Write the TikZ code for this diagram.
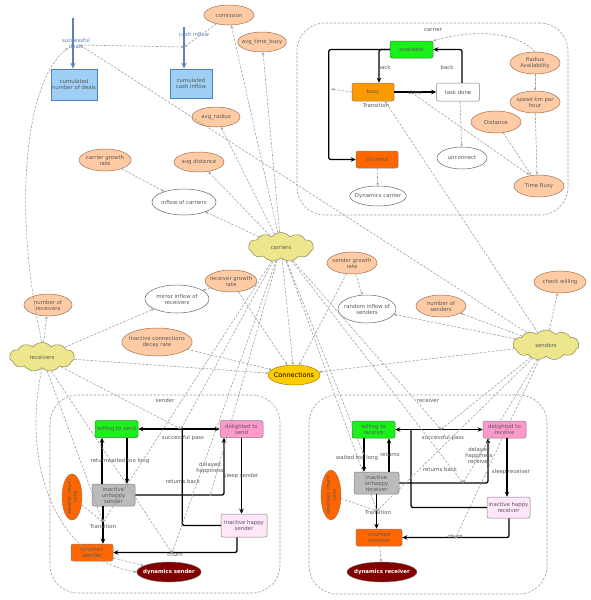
\documentclass[tikz,border=0pt]{standalone}
\usepackage{fontspec}
\setmainfont{DejaVu Sans}
\usetikzlibrary{shapes.geometric,shapes.symbols,arrows.meta,calc}
\definecolor{peach}{HTML}{FFCBA4}
\definecolor{peachd}{HTML}{A07050}
\definecolor{khaki}{HTML}{EEE68C}
\definecolor{khakid}{HTML}{8A8650}
\definecolor{goldf}{HTML}{FFCC00}
\definecolor{goldd}{HTML}{A08000}
\definecolor{lblue}{HTML}{9FCFF5}
\definecolor{lblued}{HTML}{4F7FBF}
\definecolor{flowc}{HTML}{5B7FC0}
\definecolor{sgreen}{HTML}{1AF01A}
\definecolor{sgreend}{HTML}{2E8B2E}
\definecolor{sorange}{HTML}{FF9900}
\definecolor{sred}{HTML}{FF6600}
\definecolor{spink}{HTML}{FF99CC}
\definecolor{slpink}{HTML}{FFE6F8}
\definecolor{sgray}{HTML}{BBBBBB}
\definecolor{dred}{HTML}{800000}
\definecolor{dgray}{HTML}{A0A0A0}
\begin{document}
\begin{tikzpicture}[x=1pt,y=-1pt,
 every node/.style={font=\fontsize{5.4}{6}\selectfont, text=black!65, align=center, inner sep=0.5pt},
 pe/.style={ellipse, draw=peachd, fill=peach, line width=0.5pt, inner xsep=-3pt, inner ysep=-1pt},
 we/.style={ellipse, draw=black!60, fill=white, line width=0.5pt, inner xsep=-3pt, inner ysep=-1pt},
 cl/.style={cloud, cloud puffs=11, cloud puff arc=100, draw=khakid, fill=khaki, line width=0.5pt, aspect=2.2, minimum width=65pt, minimum height=29pt},
 sb/.style={rectangle, rounded corners=2pt, draw=black!50, line width=0.5pt},
 fb/.style={rectangle, draw=lblued, fill=lblue, line width=0.6pt},
 da/.style={draw=dgray, dash pattern=on 2.5pt off 1.5pt, line width=0.6pt, -{Stealth[length=3pt,width=2.6pt]}},
 so/.style={draw=black, line width=1.3pt, rounded corners=2pt, -{Stealth[length=5pt,width=4.5pt]}},
 sl/.style={draw=black, line width=1.3pt, rounded corners=2pt},
 flw/.style={draw=flowc, line width=1.4pt, -{Stealth[length=6pt,width=5pt]}},
 grp/.style={draw=dgray, dash pattern=on 2.5pt off 1.5pt, line width=0.6pt, rounded corners=28pt},
]
\useasboundingbox (0,0) rectangle (590,600);
\fill[white] (0,0) rectangle (590,600);

% group boxes
\node[grp, minimum width=271pt, minimum height=192pt] (gcar) at (432.5,119) {};
\node[grp, minimum width=230pt, minimum height=198pt] (gsnd) at (165,494) {};
\node[grp, minimum width=238pt, minimum height=199pt] (grcv) at (428,494.5) {};
\node (lcar) at (433,29) {carrier};
\node (lsnd) at (165,400) {sender};
\node (lrcv) at (428,400) {receiver};

% stock & flow
\node[fb, minimum width=46pt, minimum height=31pt] (cnd) at (74,84.5) {cumulated\\number of deals};
\node[fb, minimum width=42pt, minimum height=29pt] (cci) at (191,83.5) {cumulated\\cash inflow};
\coordinate (sd0) at (73,18);
\coordinate (ci0) at (184,27);
\draw[flw] (sd0) -- (sd0 |- cnd.north);
\draw[flw] (ci0) -- (ci0 |- cci.north);
\node[text=flowc] (sdeal) at (76,43) {successful\\deals};
\node[text=flowc] (cinf) at (194,34) {cash inflow};
\coordinate (civ) at (184,47);
\coordinate (sdv) at (80,45);

% auxiliaries top
\node[pe, minimum width=50pt, minimum height=20pt] (comm) at (229,15) {comission};
\node[pe, minimum width=48pt, minimum height=20pt] (avgtb) at (262,42) {avg\_time\_busy};
\node[pe, minimum width=48pt, minimum height=20pt] (avgr) at (216,117) {avg\_radius};
\node[pe, minimum width=52pt, minimum height=22pt] (cgr) at (105,160) {carrier growth\\rate};
\node[pe, minimum width=50pt, minimum height=20pt] (avgd) at (199,162) {avg distance};
\node[we, minimum width=64pt, minimum height=26pt] (infc) at (184,202) {inflow of carriers};
\node[cl] (carr) at (281,247) {carriers};
\node[pe, minimum width=50pt, minimum height=22pt] (rgr) at (231,281) {receiver growth\\rate};
\node[we, minimum width=64pt, minimum height=28pt] (mir) at (177,299) {mirror inflow of\\receivers};
\node[pe, minimum width=48pt, minimum height=22pt] (nrec) at (48,305) {number of\\receivers};
\node[cl] (recv) at (42,357) {receivers};
\node[pe, minimum width=60pt, minimum height=28pt] (icd) at (157,342) {Inactive connections\\decay rate};
\node[ellipse, draw=goldd, fill=goldf, line width=0.5pt, minimum width=52pt, minimum height=20pt, inner xsep=-3pt, text=black, font=\fontsize{6.5}{7}\selectfont] (conn) at (294,375) {Connections};
\node[pe, minimum width=50pt, minimum height=22pt] (sgr) at (352,263) {sender growth\\rate};
\node[we, minimum width=58pt, minimum height=28pt] (rnd) at (367,309) {random inflow of\\senders};
\node[pe, minimum width=50pt, minimum height=22pt] (nsnd) at (441,306) {number of\\senders};
\node[pe, minimum width=52pt, minimum height=22pt] (chk) at (560,282) {check willing};
\node[cl, minimum width=66pt, minimum height=30pt] (send) at (546,345) {senders};

% carrier states
\node[sb, fill=sgreen, draw=sgreend, minimum width=43pt, minimum height=17pt] (avail) at (411.5,49.5) {available};
\node[sb, fill=sorange, minimum width=42pt, minimum height=18pt] (busy) at (373,92) {busy};
\node[sb, fill=white, minimum width=43pt, minimum height=18pt] (tdone) at (458,92) {task done};
\node[sb, fill=sred, minimum width=42pt, minimum height=17pt] (chur) at (377,159.5) {churned};
\node[we, minimum width=50pt, minimum height=20pt] (dync) at (378,196) {Dynamics carrier};
\node[we, minimum width=50pt, minimum height=22pt] (unc) at (462,158) {unconnect};
\node[pe, minimum width=50pt, minimum height=22pt] (rad) at (535,63) {Radius\\Availability};
\node[pe, minimum width=50pt, minimum height=22pt] (spd) at (535,102) {speed km per\\hour};
\node[pe, minimum width=50pt, minimum height=22pt] (dist) at (496,122) {Distance};
\node[pe, minimum width=50pt, minimum height=22pt] (tbusy) at (539,186) {Time Busy};

% sender states
\node[sb, fill=sgreen, draw=sgreend, minimum width=43pt, minimum height=17pt] (ws) at (116.5,429) {willing to send};
\node[sb, fill=spink, minimum width=43pt, minimum height=17pt] (ds) at (241.5,429) {delighted to\\send};
\node[sb, fill=sgray, minimum width=43pt, minimum height=22pt] (us) at (113.5,495) {inactive\\unhappy\\sender};
\node[sb, fill=slpink, minimum width=46pt, minimum height=23pt] (hs) at (244,525.5) {inactive happy\\sender};
\node[sb, fill=sred, minimum width=42pt, minimum height=17pt] (cs) at (92,552.5) {churned\\sender};
\node[ellipse, draw=black!50, fill=dred, text=white, font=\fontsize{5.4}{6}\selectfont\bfseries, inner xsep=-3pt, minimum width=50pt, minimum height=20pt] (dyns) at (169,572) {dynamics sender};
\node[ellipse, draw=peachd, fill=sred, rotate=90, inner xsep=-2pt, minimum width=46pt, minimum height=20pt] (scr) at (72,497) {sender churn\\rate};

% receiver states
\node[sb, fill=sgreen, draw=sgreend, minimum width=43pt, minimum height=17pt] (wr) at (373.5,429.5) {willing to\\receive};
\node[sb, fill=spink, minimum width=43pt, minimum height=17pt] (dr) at (504.5,429.5) {delighted to\\receive};
\node[sb, fill=sgray, minimum width=45pt, minimum height=22pt] (ur) at (376.5,483) {inactive\\unhappy\\receiver};
\node[sb, fill=slpink, minimum width=43pt, minimum height=21pt] (hr) at (508.5,507.5) {inactive happy\\receiver};
\node[sb, fill=sred, minimum width=46pt, minimum height=17pt] (cr) at (379,537.5) {churned\\receiver};
\node[ellipse, draw=black!50, fill=dred, text=white, font=\fontsize{5.4}{6}\selectfont\bfseries, inner xsep=-3pt, minimum width=50pt, minimum height=20pt] (dynr) at (382,572) {dynamics receiver};
\node[ellipse, draw=peachd, fill=sred, rotate=90, inner xsep=-2pt, minimum width=46pt, minimum height=20pt] (rcr) at (331,495) {receiver churn\\rate};

% ---- carrier solid flows
\draw[so] (avail.west) -| ([xshift=6pt]busy.north);
\draw[so] (avail.west) -- ++(-61,0) |- (chur.west);
\draw[so] (busy.east) -- (tdone.west);
\draw[so] ([xshift=4pt]tdone.north) |- (avail.east);
\node (lb1) at (384,67) {back};
\node (lb2) at (447,67) {back};
\node (ldone) at (415,92) {done};
\node (ltr0) at (376,105) {Transition};
\coordinate (trc) at (331,89);
\coordinate (donec) at (415,95);
\draw[da] (busy.west) -- (trc);
\draw[da] (chur) -- (dync);
\draw[da] ([xshift=2pt]tdone.south) -- (unc);
\draw[da] (rad) -- (spd);
\draw[da] (spd) -- ([xshift=-2pt]tbusy.north);
\draw[da] (dist) -- ([xshift=-8pt]tbusy.north);
\draw[da] (donec) -- ([xshift=-10pt]tbusy.north);
\draw[da] (rad.north) .. controls (515,30) and (470,30) .. (avail.north east);

% ---- sender solid flows
\draw[sl, {Stealth[length=5pt,width=4.5pt]}-{Stealth[length=5pt,width=4.5pt]}] (ws.east) -- (ds.west);
\draw[so] ([xshift=10.5pt]ws.south) -- ([xshift=10.5pt]ws.south |- us.north);
\draw[so] ([xshift=-11.5pt]us.north) -- ([xshift=-11.5pt]us.north |- ws.south);
\draw[so] ([xshift=-10.5pt]us.south) -- ([xshift=-10.5pt]us.south |- cs.north);
\draw[so] (us.east) -| ([xshift=-17.5pt]ds.south);
\draw[so] (ds.south) -- (ds.south |- hs.north);
\draw[sl] (hs.west) -| ($(ws.east)!0.54!(ds.west)$);
\draw[so] ([xshift=-7pt]hs.south) |- (cs.east);
\node (ls1) at (183,438) {successful pass};
\node (ls2) at (120,461) {returnwaited too long};
\node (ls3) at (103,526) {Transition};
\node (ls4) at (210,468) {delayed\\happiness};
\node (ls5) at (241,476) {sleep sender};
\node (ls6) at (183,481) {returns back};
\node (ls7) at (175,554) {churn};

% ---- receiver solid flows
\draw[sl, {Stealth[length=5pt,width=4.5pt]}-{Stealth[length=5pt,width=4.5pt]}] (wr.east) -- (dr.west);
\draw[so] ([xshift=-9.5pt]wr.south) -- ([xshift=-9.5pt]wr.south |- ur.north);
\draw[so] ([xshift=12.5pt]ur.north) -- ([xshift=12.5pt]ur.north |- wr.south);
\draw[so] (ur.south) -- (ur.south |- cr.north);
\draw[so] (ur.east) -| ([xshift=-16.5pt]dr.south);
\draw[so] ([xshift=2.5pt]dr.south) -- ([xshift=2.5pt]dr.south |- hr.north);
\draw[sl] (hr.west) -| ($(wr.east)!0.18!(dr.west)$);
\draw[so] ([xshift=0.5pt]hr.south) |- (cr.east);
\node (lr1) at (443,438) {successful pass};
\node (lr2) at (357,458) {waited too long};
\node (lr3) at (390,455) {returns};
\node (lr4) at (378,512) {Transition};
\node (lr5) at (479,455) {delayed\\happiness\\receiver};
\node (lr6) at (511,472) {sleep receiver};
\node (lr7) at (440,469) {returns back};
\node (lr8) at (455,536) {churn};

% transition points
\coordinate (sp1) at (181,429);
\coordinate (dh1) at (210,496);
\coordinate (tr1) at (103,522);
\coordinate (ch1) at (172,553);
\coordinate (sp2) at (441,429.5);
\coordinate (wt2) at (364,455);
\coordinate (tr2) at (377,511);
\coordinate (dh2) at (463,483);
\coordinate (ch2) at (455,539);

% ---- dashed influence links
\draw[da] (sdv) -- (civ);
\draw[da] (comm) -- (civ);
\draw[da] (send) -- (sdv);
\draw[da] (recv.north) .. controls (12,210) and (25,80) .. (68,48);
\draw[da] (send) -- ([xshift=12pt]busy.south);
\draw[da] (carr) -- (comm);
\draw[da] (carr) -- (avgtb);
\draw[da] (carr) -- (avgr);
\draw[da] (carr) -- (avgd);
\draw[da] (carr) -- (infc);
\draw[da] (cgr) -- (infc);
\draw[da] (carr) -- (conn);
\draw[da] (carr) -- (sp1);
\draw[da] (carr) -- (dh1);
\draw[da] (carr) -- (tr1);
\draw[da] (carr) -- (ch1);
\draw[da] (carr) -- (sp2);
\draw[da] (carr) -- (wt2);
\draw[da] (carr) -- (tr2);
\draw[da] (carr) -- (dh2);
\draw[da] (rgr) -- (mir);
\draw[da] (rgr) -- (conn);
\draw[da] (icd) -- (conn);
\draw[da] (recv) -- (nrec);
\draw[da] (recv) -- (mir);
\draw[da] (recv) -- (conn);
\draw[da] (recv) -- (sp1);
\draw[da] (recv) -- (tr1);
\draw[da] (recv) -- (ch1);
\draw[da] (recv.south) .. controls (20,470) and (60,560) .. (dyns.west);
\draw[da] (send) -- (chk);
\draw[da] (send) -- (nsnd);
\draw[da] (send) -- (rnd);
\draw[da] (send) -- (conn);
\draw[da] (send) -- (sp2);
\draw[da] (send) -- (dh2);
\draw[da] (send) -- (tr2);
\draw[da] (send) -- (ch2);
\draw[da] (sgr) -- (rnd);
\draw[da] (sgr) -- (conn);
\draw[da] (scr) -- (tr1);
\draw[da] (rcr) -- (tr2);
\draw[da] (cs) -- (dyns);
\draw[da] (cr) -- (dynr);
\end{tikzpicture}
\end{document}
